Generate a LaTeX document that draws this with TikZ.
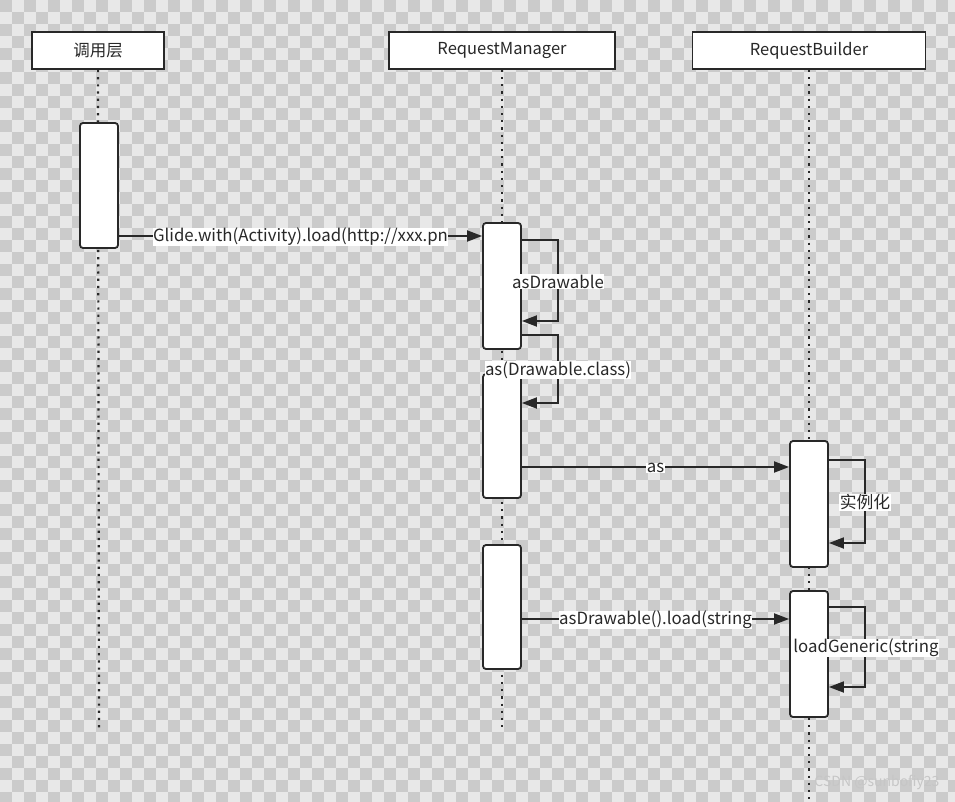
\documentclass[tikz,border=0pt]{standalone}
\usepackage{fontspec}
\setmainfont{Noto Sans CJK SC}
\usetikzlibrary{arrows.meta,calc}
\definecolor{chklight}{RGB}{232,232,232}
\definecolor{chkdark}{RGB}{203,203,203}
\definecolor{ink}{RGB}{40,40,40}
\tikzset{
  head/.style={draw=ink,line width=1.8pt,fill=white,minimum height=37pt,inner sep=0pt,font=\fontsize{16.5}{18}\selectfont,text=ink},
  act/.style={draw=ink,line width=1.8pt,fill=white,rounded corners=3pt,minimum width=38pt,inner sep=0pt},
  life/.style={draw=ink,line width=2.2pt,dash pattern=on 2.2pt off 5pt},
  msg/.style={draw=ink,line width=1.8pt,-{Triangle[length=15pt,width=11pt]}},
  lbl/.style={fill=white,inner sep=0.5pt,font=\fontsize{16.8}{18}\selectfont,text=ink},
}
\begin{document}
\begin{tikzpicture}[x=1pt,y=-1pt]
\useasboundingbox (0,0) rectangle (955,802);
% checkerboard background
\begin{scope}
\clip (0,0) rectangle (955,802);
\fill[chklight] (0,0) rectangle (955,802);
\foreach \j in {0,...,66}{
  \pgfmathtruncatemacro\s{mod(\j,2)}
  \pgfmathtruncatemacro\t{\s+2}
  \foreach \i in {\s,\t,...,79}{
    \fill[chkdark] (\i*12,\j*12) rectangle ++(12,12);
  }
}
\end{scope}
% headers
\node[head,minimum width=132pt] (h1) at (98,50.5) {调用层};
\node[head,minimum width=226pt] (h2) at (502,50.5) {RequestManager};
\node[head,minimum width=233pt] (h3) at (809,50.5) {RequestBuilder};
% lifeline ends
\coordinate (e1) at (99,730);
\coordinate (e2) at (502,730);
\coordinate (e3) at (809,802);
\draw[life] (h1.south) -- (e1);
\draw[life] (h2.south) -- (e2);
\draw[life] (h3.south) -- (e3);
% activations
\node[act,minimum height=125pt] (a1) at (99,185.5) {};
\node[act,minimum height=126pt] (m1) at (502,286) {};
\node[act,minimum height=124pt] (m2) at (502,436) {};
\node[act,minimum height=124pt] (m3) at (502,607) {};
\node[act,minimum height=126pt] (b1) at (809,504) {};
\node[act,minimum height=126pt] (b2) at (809,654) {};
% messages
\draw[msg] (a1.east |- 0,236) -- node[lbl,pos=0.5,yshift=-1pt]{Glide.with(Activity).load(http://xxx.pn} (m1.west |- 0,236);
\draw[msg] (m1.east |- 0,240) -- (558,240) -- node[lbl,yshift=-1pt]{asDrawable} (558,321) -- (m1.east |- 0,321);
\draw[msg] (m1.east |- 0,335) -- (558,335) -- node[lbl,pos=0.5,yshift=-1pt]{as(Drawable.class)} (558,403) -- (m2.east |- 0,403);
\draw[msg] (m2.east |- 0,467) -- node[lbl,pos=0.5,yshift=-1pt]{as} (b1.west |- 0,467);
\draw[msg] (b1.east |- 0,460) -- (865,460) -- node[lbl,yshift=-1pt]{实例化} (865,543) -- (b1.east |- 0,543);
\draw[msg] (m3.east |- 0,619) -- node[lbl,pos=0.5,yshift=-1pt]{asDrawable().load(string} (b2.west |- 0,619);
\draw[msg] (b2.east |- 0,607) -- (865,607) -- node[lbl,xshift=1pt,yshift=-1pt]{loadGeneric(string} (865,687) -- (b2.east |- 0,687);
% watermark
\node[font=\fontsize{14}{16}\selectfont,text=white!55!gray,anchor=east] (wm) at (943,782) {CSDN @sunbofiy23};
\end{tikzpicture}
\end{document}
